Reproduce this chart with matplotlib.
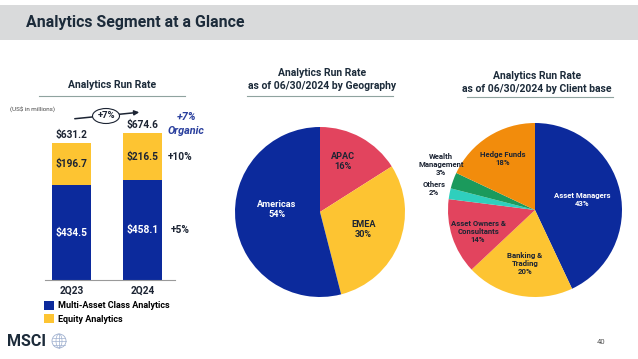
import numpy as np
import matplotlib.pyplot as plt
from matplotlib.patches import Ellipse, Rectangle, FancyArrowPatch
from matplotlib.lines import Line2D

W, H = 638, 359

# bar chart data (US$ millions)
quarters = ["2Q23", "2Q24"]
multi_asset = [434.5, 458.1]
equity = [196.7, 216.5]
multi_asset_growth = "+5%"
equity_growth = "+10%"
total_growth = "+7%"
organic_growth = "+7%"

# pie data (% of run rate)
geo_labels = ["APAC", "EMEA", "Americas"]
geo_share = [16, 30, 54]

client_labels = ["Asset Managers", "Banking &\nTrading", "Asset Owners &\nConsultants",
                 "Others", "Wealth\nManagement", "Hedge Funds"]
client_share = [43, 20, 14, 2, 3, 18]

BLUE = "#0c2a9c"
YELLOW = "#fdc432"
RED = "#e2445e"
ORANGE = "#f28c0c"
GREEN = "#1b9a5c"
TEAL = "#2fcfbd"
DARK = "#1c2433"
NAVY = "#1c2b3a"
RULE = "#8fa39f"

plt.rcParams['font.family'] = ['Roboto', 'DejaVu Sans']


def fp(x, y):
    """pixel position (from top-left) -> figure fraction"""
    return x / W, 1 - y / H


def px_axes(fig, left, top, width, height):
    return fig.add_axes([left / W, 1 - (top + height) / H, width / W, height / H])


fig = plt.figure(figsize=(W / 100, H / 100), dpi=100)

# header band
fig.add_artist(Rectangle(fp(0, 40), 1, 35 / H, transform=fig.transFigure,
                         facecolor="#d9dadb", edgecolor="none"))
fig.text(*fp(26, 23), "Analytics Segment at a Glance", fontsize=11.4,
         fontweight="bold", color=NAVY, va="center", ha="left")


def section_title(cx, lines_y, lines, rule_x0, rule_x1, rule_y):
    for y, t in zip(lines_y, lines):
        fig.text(*fp(cx, y), t, fontsize=7.5, fontweight="bold", color=NAVY,
                 ha="center", va="center")
    x0, y0 = fp(rule_x0, rule_y)
    x1, _ = fp(rule_x1, rule_y)
    fig.add_artist(Line2D([x0, x1], [y0, y0], transform=fig.transFigure,
                          color=RULE, lw=0.8))


section_title(112, [85], ["Analytics Run Rate"], 39, 185, 96)
section_title(322, [73, 86], ["Analytics Run Rate", "as of 06/30/2024 by Geography"],
              247, 393, 96)
section_title(537, [76, 89], ["Analytics Run Rate", "as of 06/30/2024 by Client base"],
              467, 613, 97)

# ---- stacked bars
ax = px_axes(fig, 45, 120, 130, 160)
x = np.arange(len(quarters))
b1 = ax.bar(x, multi_asset, width=0.55, color=BLUE, label="Multi-Asset Class Analytics")
b2 = ax.bar(x, equity, width=0.55, bottom=multi_asset, color=YELLOW, label="Equity Analytics")
ax.set_xlim(-0.373, 1.458)
ax.set_ylim(0, 735.6)
for s in ["top", "right", "left"]:
    ax.spines[s].set_visible(False)
ax.spines["bottom"].set_color("#9a9a9a")
ax.spines["bottom"].set_linewidth(0.8)
ax.set_yticks([])
ax.set_xticks(x, quarters, fontsize=7.3, fontweight="bold", color=DARK)
ax.tick_params(axis="x", length=0, pad=4)

for i in x:
    m, e = multi_asset[i], equity[i]
    ax.text(i, m / 2, f"${m:.1f}", ha="center", va="center", color="white",
            fontsize=7.3, fontweight="bold")
    ax.text(i, m + e / 2, f"${e:.1f}", ha="center", va="center", color=DARK,
            fontsize=7.3, fontweight="bold")
    ax.annotate(f"${m + e:.1f}", (i, m + e), xytext=(0, 2), textcoords="offset points",
                ha="center", va="bottom", color=DARK, fontsize=7.3, fontweight="bold")

last = len(quarters) - 1
ax.text(1.53, multi_asset[last] / 2, multi_asset_growth, ha="center", va="center",
        color=DARK, fontsize=7.3, fontweight="bold", clip_on=False)
ax.text(1.53, multi_asset[last] + equity[last] / 2, equity_growth, ha="center",
        va="center", color=DARK, fontsize=7.3, fontweight="bold", clip_on=False)

fig.text(*fp(187, 117), organic_growth, fontsize=7.8, fontweight="bold", style="italic",
         color="#2a3f9d", ha="center", va="center")
fig.text(*fp(186, 131), "Organic", fontsize=7.8, fontweight="bold", style="italic",
         color="#2a3f9d", ha="center", va="center")
fig.text(*fp(10, 109), "(US$ in millions)", fontsize=4.5, color="#444444",
         ha="left", va="center")

# growth arrow with ellipse
fig.add_artist(FancyArrowPatch(
    fp(72, 119), fp(142, 112), transform=fig.transFigure, arrowstyle="-|>",
    mutation_scale=7, color=DARK, lw=1.1))
fig.add_artist(Ellipse(fp(106, 116), 27 / W, 15 / H, transform=fig.transFigure,
                       facecolor="white", edgecolor=DARK, lw=0.8))
fig.text(*fp(106, 116), total_growth, fontsize=6.8, fontweight="bold", color=DARK,
         ha="center", va="center")

# legend
fig.legend(handles=[b1, b2], loc="upper left", bbox_to_anchor=fp(44, 301),
           frameon=False, handlelength=1.1, handleheight=1.1,
           handletextpad=0.5, labelspacing=0.45, borderpad=0, borderaxespad=0,
           prop={"weight": "bold", "size": 6.5})


def draw_pie(cx, cy, r, shares, labels, colors, place, fs):
    pax = px_axes(fig, cx - r, cy - r, 2 * r, 2 * r)
    wedges, _ = pax.pie(shares, colors=colors, startangle=90, counterclock=False,
                        wedgeprops=dict(linewidth=0))
    pax.set_xlim(-1, 1)
    pax.set_ylim(-1, 1)
    pax.set_aspect("equal")
    for w, lab, s in zip(wedges, labels, shares):
        rad, dth, col = place[lab]
        th = np.deg2rad((w.theta1 + w.theta2) / 2 + dth)
        pax.text(rad * np.cos(th), rad * np.sin(th), f"{lab}\n{s}%", ha="center",
                 va="center", color=col, fontsize=fs, fontweight="bold",
                 linespacing=1.15, clip_on=False)
    return pax


geo_place = {"APAC": (0.65, 4, DARK), "EMEA": (0.55, 0, DARK),
             "Americas": (0.51, -11, "white")}
draw_pie(320, 212, 85, geo_share, geo_labels, [RED, YELLOW, BLUE], geo_place, 6.6)

client_place = {
    "Asset Managers": (0.56, 0, "white"),
    "Banking &\nTrading": (0.63, 0, DARK),
    "Asset Owners &\nConsultants": (0.70, 3, DARK),
    "Others": (1.19, -1, DARK),
    "Wealth\nManagement": (1.20, -6, DARK),
    "Hedge Funds": (0.70, 0, DARK),
}
draw_pie(535, 210, 87, client_share, client_labels,
         [BLUE, YELLOW, RED, TEAL, GREEN, ORANGE], client_place, 5.6)

# footer
fig.text(*fp(7, 342), "MSCI", fontsize=11.5, fontweight="bold", color=NAVY,
         ha="left", va="center")
gc = "#9fb0cf"
GX = 59
gx, gy = fp(GX, 341)
fig.add_artist(Ellipse((gx, gy), 14 / W, 14 / H, transform=fig.transFigure,
                       facecolor="none", edgecolor=gc, lw=0.6))
fig.add_artist(Ellipse((gx, gy), 6 / W, 14 / H, transform=fig.transFigure,
                       facecolor="none", edgecolor=gc, lw=0.5))
fig.add_artist(Line2D([gx, gx], [gy - 7 / H, gy + 7 / H], transform=fig.transFigure,
                      color=gc, lw=0.5))
for dy in (-3.5, 0, 3.5):
    hw = np.sqrt(49 - dy ** 2)
    fig.add_artist(Line2D([(GX - hw) / W, (GX + hw) / W], [1 - (341 + dy) / H] * 2,
                          transform=fig.transFigure, color=gc, lw=0.5))
fig.text(*fp(601, 342), "40", fontsize=5.5, color="#555555", ha="center", va="center")

fig.savefig("out.png", dpi=100)
